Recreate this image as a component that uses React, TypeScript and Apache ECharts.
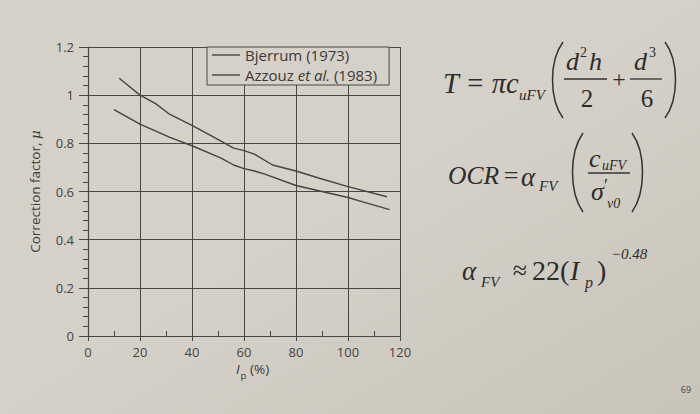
import React, { useEffect, useRef } from "react";
import * as echarts from "echarts";

const seriesNames = ["Bjerrum (1973)", "Azzouz et al. (1983)"];
const ipBjerrum = [12, 20, 26, 31.5, 40, 51, 56, 60, 64, 71, 80, 89, 100, 115];
const muBjerrum = [1.07, 1.0, 0.965, 0.92, 0.875, 0.81, 0.78, 0.77, 0.755, 0.71, 0.685, 0.655, 0.62, 0.578];
const ipAzzouz = [10, 20, 31.5, 40, 51, 56, 60, 64, 68, 80, 90, 100, 106, 116];
const muAzzouz = [0.94, 0.88, 0.825, 0.79, 0.74, 0.71, 0.695, 0.685, 0.672, 0.625, 0.6, 0.575, 0.556, 0.525];
const xTickValues = [0, 20, 40, 60, 80, 100, 120];
const yTickValues = [0, 0.2, 0.4, 0.6, 0.8, 1, 1.2];

const INK = "#3a3a3a";
const GRID = "#474747";
const SANS = "'Open Sans', 'Noto Sans', sans-serif";
const SERIF = "'Liberation Serif', 'DejaVu Serif', serif";

function t(text: string, x: number, y: number, size: number, italic = true, align = "left", fill = "#2c2c2c", family = SERIF) {
  return {
    type: "text",
    x,
    y,
    silent: true,
    style: {
      text,
      fill,
      fontSize: size,
      fontFamily: family,
      fontStyle: italic ? "italic" : "normal",
      textAlign: align,
      textVerticalAlign: "middle",
    },
  };
}
function bar(x1: number, y: number, x2: number) {
  return { type: "line", silent: true, shape: { x1, y1: y, x2, y2: y }, style: { stroke: "#333", lineWidth: 1.3 } };
}
function paren(x: number, y1: number, y2: number, dir: number) {
  const h = y2 - y1;
  return {
    type: "bezierCurve",
    silent: true,
    shape: {
      x1: x, y1,
      cpx1: x - dir * 14, cpy1: y1 + h * 0.25,
      cpx2: x - dir * 14, cpy2: y1 + h * 0.75,
      x2: x, y2,
    },
    style: { stroke: "#333", lineWidth: 1.5, fill: null },
  };
}

export default function App() {
  const ref = useRef<HTMLDivElement>(null);
  useEffect(() => {
    if (!ref.current) return;
    const chart = echarts.init(ref.current, undefined, { renderer: "svg" });
    const graphic: any[] = [
      // Formula 1
      t("T = πc", 443, 83, 28.5),
      t("uFV", 519, 95, 15),
      paren(563, 42, 118, 1),
      t("d", 566, 61, 26),
      t("2", 580, 52, 14, false),
      t("h", 589, 61, 26),
      bar(564, 79, 607),
      t("2", 587, 98, 25, false, "center"),
      t("+", 619, 79, 24, false, "center"),
      t("d", 634, 61, 26),
      t("3", 649, 52, 14, false),
      bar(630, 79, 662),
      t("6", 647, 98, 25, false, "center"),
      paren(665, 42, 118, -1),
      // Formula 2
      t("OCR", 448, 175, 25.5),
      t("=", 511, 175, 26, false, "center"),
      t("α", 521, 177, 27),
      t("FV", 539, 186, 15),
      paren(583, 133, 212, 1),
      t("c", 589, 158, 26),
      t("uFV", 602, 165, 14),
      bar(588, 173, 630),
      t("σ", 591, 191, 26),
      t("′", 604, 186, 18, false),
      t("v0", 607, 203, 14),
      paren(632, 133, 212, -1),
      // Formula 3
      t("α", 462, 271, 27),
      t("FV", 481, 282, 15),
      t("≈", 520, 270, 26, false, "center"),
      t("22(", 532, 270, 28, false),
      t("I", 570, 270, 28),
      t("p", 585, 282, 16),
      t(")", 597, 270, 28, false),
      t("−0.48", 611, 254, 15),
      // page number
      t("69", 686, 389, 9, false, "center", "#444", SANS),
      // x axis name
      t("I", 236, 369, 13.5, true, "left", INK, SANS),
      t("p", 240.5, 375, 9.5, false, "left", INK, SANS),
      t("(%)", 250, 369, 13.5, false, "left", INK, SANS),
    ];

    chart.setOption({
      animation: false,
      backgroundColor: {
        type: "linear", x: 0, y: 0, x2: 1, y2: 1,
        colorStops: [
          { offset: 0, color: "#d6d2c9" },
          { offset: 0.5, color: "#d5d1c8" },
          { offset: 1, color: "#c9c4ba" },
        ],
      },
      textStyle: { fontFamily: SANS },
      grid: { left: 88, right: 300, top: 47, bottom: 78, containLabel: false },
      legend: {
        data: seriesNames,
        orient: "vertical",
        left: 207,
        top: 47,
        icon: "rect",
        itemWidth: 28,
        itemHeight: 1.4,
        itemGap: 4,
        padding: [0, 12, 2, 5],
        borderColor: GRID,
        borderWidth: 1,
        borderRadius: 0,
        backgroundColor: "#d5d1c8",
        formatter: (name: string) => (name === seriesNames[1] ? "Azzouz {i|et al.} (1983)" : name),
        textStyle: {
          color: INK,
          fontSize: 15,
          lineHeight: 16,
          fontFamily: SANS,
          rich: { i: { fontStyle: "italic", fontSize: 15, lineHeight: 16, fontFamily: SANS, color: INK } },
        },
      },
      xAxis: [
        {
          type: "value",
          min: 0,
          max: 120,
          interval: 20,
          axisLine: { show: true, lineStyle: { color: GRID, width: 1.2 } },
          axisTick: { show: true, inside: false, length: 5, lineStyle: { color: GRID } },
          axisLabel: { color: "#444", fontSize: 13, margin: 9, customValues: xTickValues },
          splitLine: { show: true, lineStyle: { color: GRID, width: 1 } },
        },
        {
          type: "value",
          position: "bottom",
          min: 0,
          max: 120,
          interval: 10,
          axisLine: { show: false },
          axisTick: { show: true, inside: true, length: 5, lineStyle: { color: GRID } },
          axisLabel: { show: false },
          splitLine: { show: false },
        },
      ],
      yAxis: {
        type: "value",
        min: 0,
        max: 1.2,
        interval: 0.2,
        name: "Correction factor, {i|μ}",
        nameLocation: "middle",
        nameGap: 46,
        nameTextStyle: {
          color: INK,
          fontSize: 13.5,
          fontFamily: SANS,
          rich: { i: { fontStyle: "italic", fontSize: 13.5, fontFamily: "'DejaVu Serif', serif", color: INK } },
        },
        axisLine: { show: true, lineStyle: { color: GRID, width: 1.2 } },
        axisTick: { show: true, inside: false, length: 9, lineStyle: { color: GRID } },
        minorTick: { show: true, splitNumber: 5, length: 5, lineStyle: { color: GRID } },
        axisLabel: { color: "#444", fontSize: 13, margin: 14, customValues: yTickValues },
        splitLine: { show: true, lineStyle: { color: GRID, width: 1 } },
      },
      series: [
        {
          name: seriesNames[0],
          type: "line",
          symbol: "none",
          data: ipBjerrum.map((v, i) => [v, muBjerrum[i]]),
          lineStyle: { color: "#444", width: 1.4 },
          itemStyle: { color: "#444" },
        },
        {
          name: seriesNames[1],
          type: "line",
          symbol: "none",
          data: ipAzzouz.map((v, i) => [v, muAzzouz[i]]),
          lineStyle: { color: "#444", width: 1.4 },
          itemStyle: { color: "#444" },
        },
      ],
      graphic,
    });
    return () => chart.dispose();
  }, []);
  return <div ref={ref} style={{ position: "absolute", left: 0, top: 0, width: 700, height: 414 }} />;
}
